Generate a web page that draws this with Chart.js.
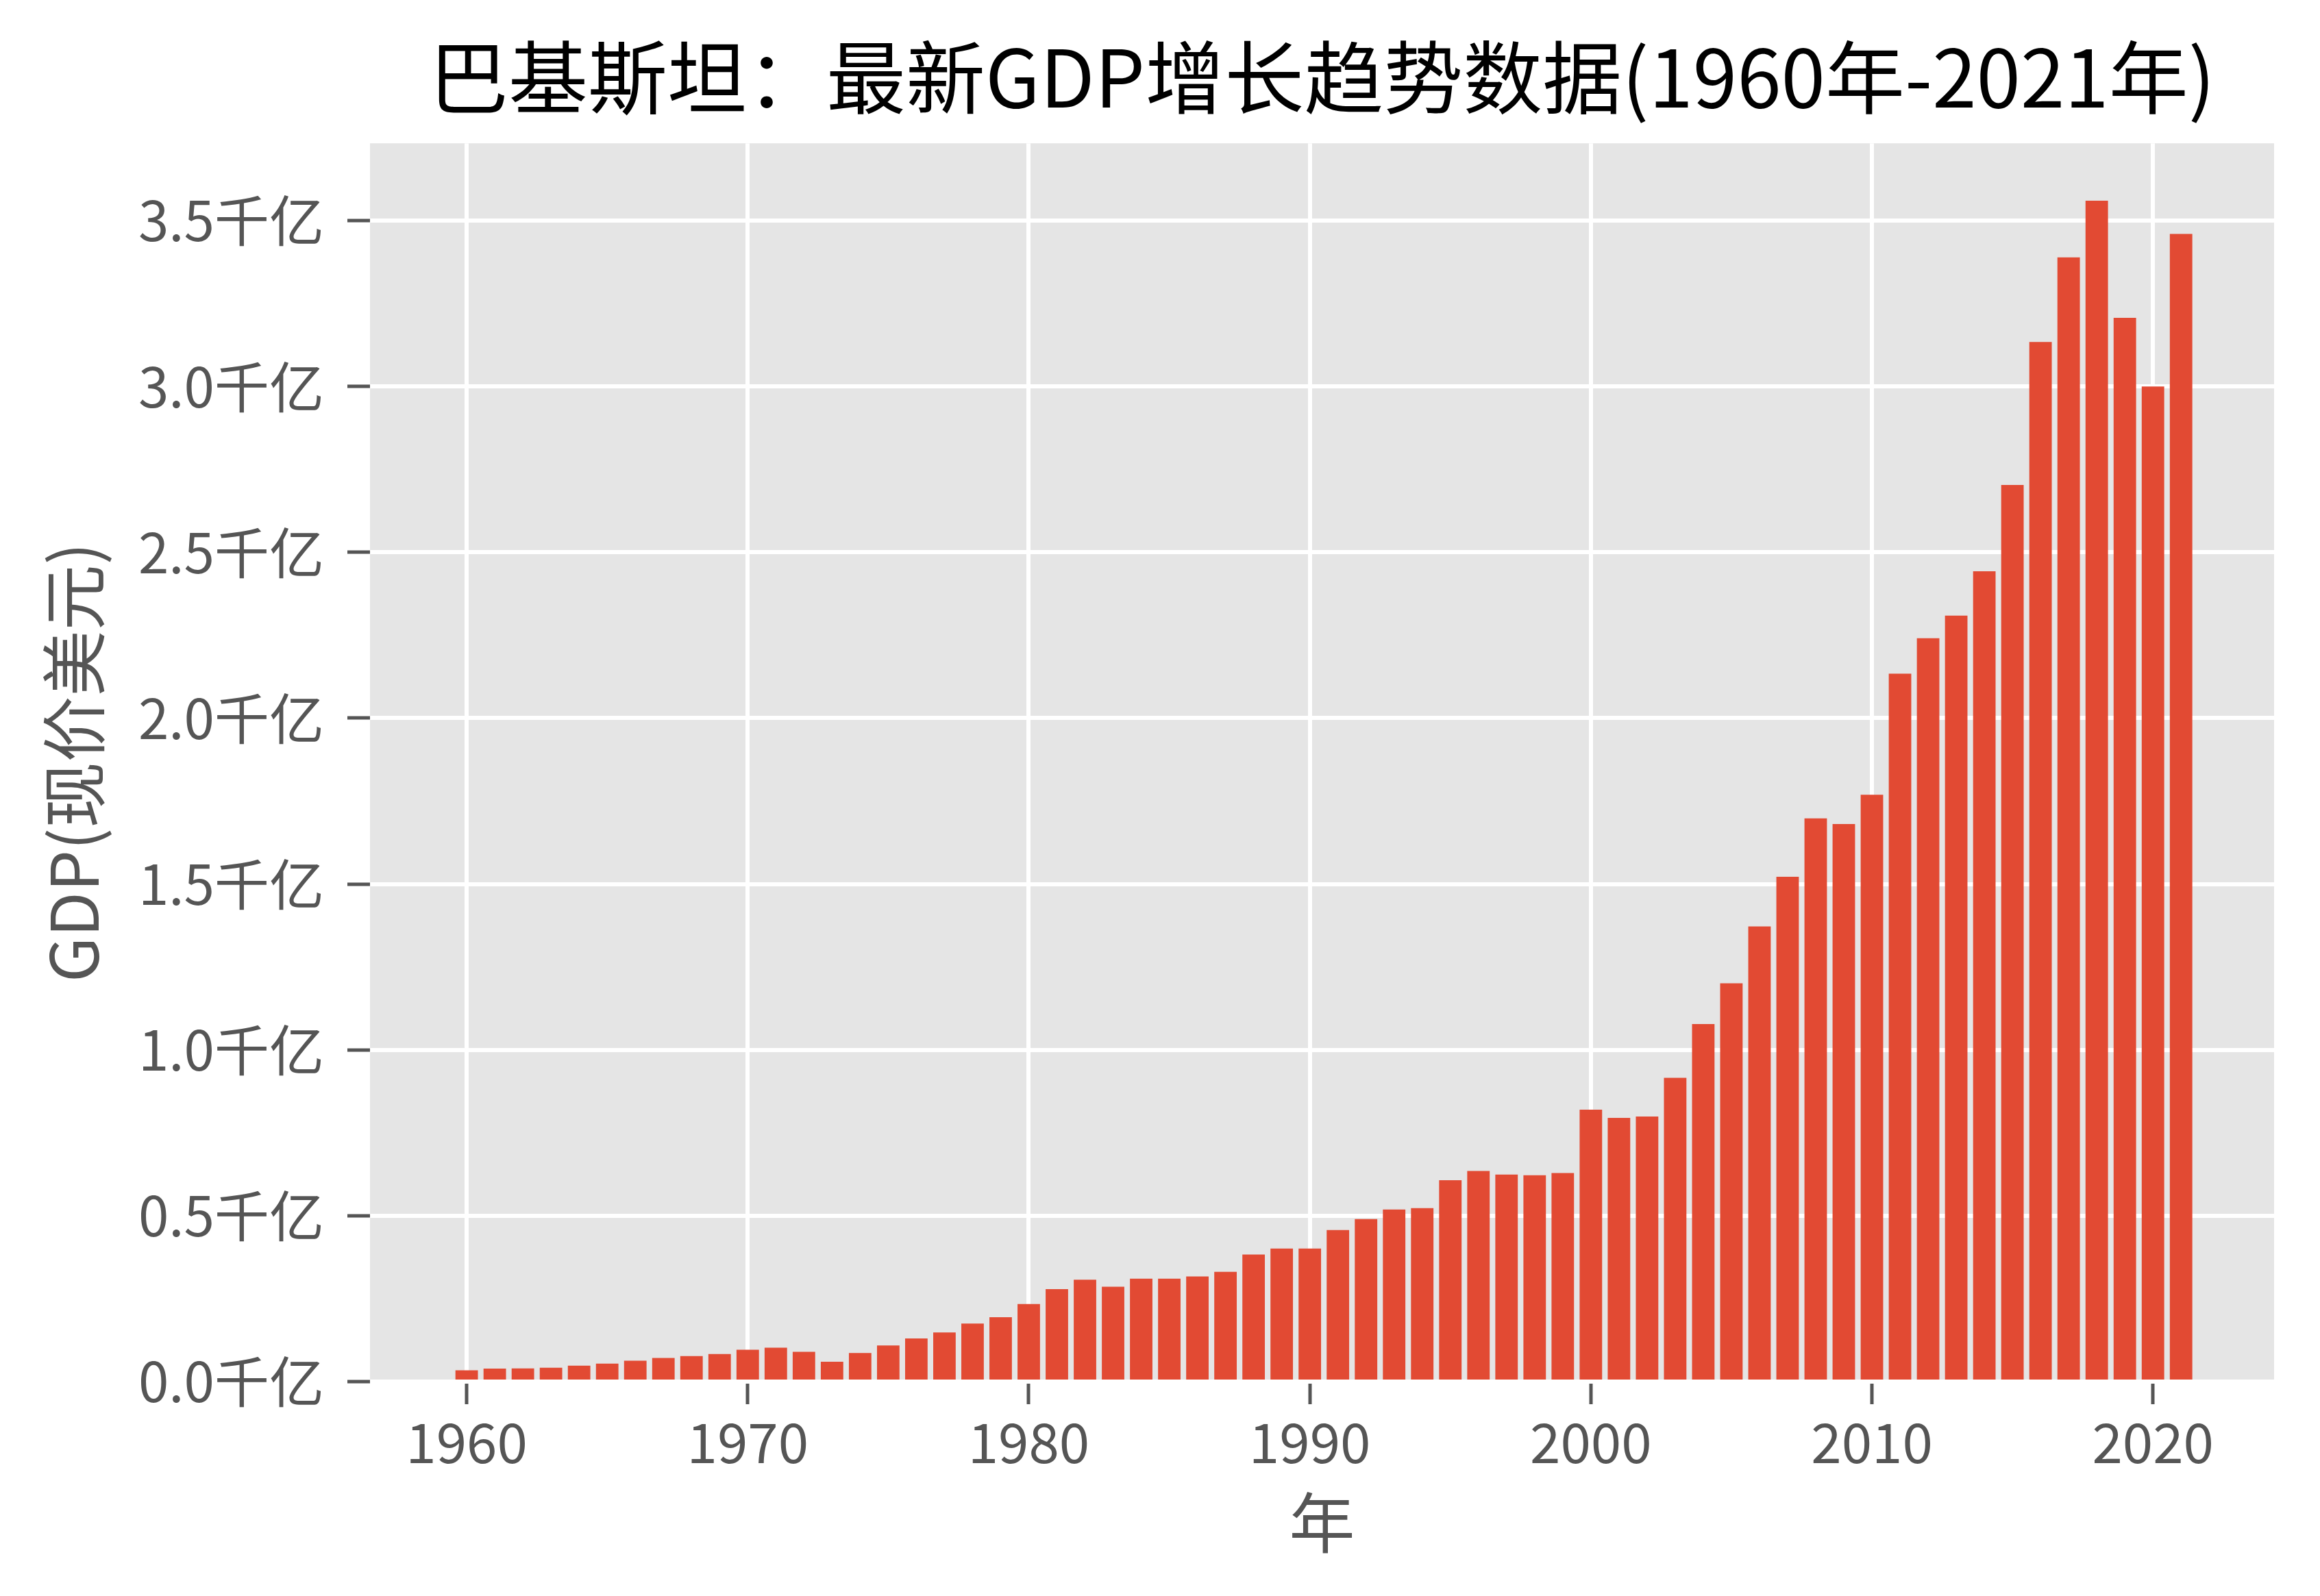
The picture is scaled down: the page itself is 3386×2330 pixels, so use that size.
<!DOCTYPE html>
<html>
<head>
<meta charset="utf-8">
<title>巴基斯坦GDP</title>
<script src="https://cdn.jsdelivr.net/npm/chart.js@4.4.1/dist/chart.umd.min.js"></script>
<style>
  html, body { margin: 0; padding: 0; background: #ffffff; }
  #wrap { width: 3386px; height: 2330px; position: relative; }
</style>
</head>
<body>
<div id="wrap"><canvas id="gdpChart"></canvas></div>
<script>
// Data (values in 千亿 US$)
const years = [
    1960, 1961, 1962, 1963, 1964, 1965, 1966, 1967, 1968, 1969,
    1970, 1971, 1972, 1973, 1974, 1975, 1976, 1977, 1978, 1979,
    1980, 1981, 1982, 1983, 1984, 1985, 1986, 1987, 1988, 1989,
    1990, 1991, 1992, 1993, 1994, 1995, 1996, 1997, 1998, 1999,
    2000, 2001, 2002, 2003, 2004, 2005, 2006, 2007, 2008, 2009,
    2010, 2011, 2012, 2013, 2014, 2015, 2016, 2017, 2018, 2019,
    2020, 2021
];
const gdpValues = [
    0.034, 0.039, 0.040, 0.042, 0.048, 0.054, 0.063, 0.071, 0.077, 0.083,
    0.096, 0.102, 0.090, 0.060, 0.086, 0.109, 0.130, 0.148, 0.175, 0.194,
    0.234, 0.279, 0.307, 0.286, 0.310, 0.310, 0.317, 0.331, 0.383, 0.401,
    0.401, 0.457, 0.490, 0.519, 0.523, 0.607, 0.635, 0.624, 0.622, 0.629,
    0.820, 0.795, 0.799, 0.916, 1.078, 1.201, 1.372, 1.522, 1.698, 1.681,
    1.769, 2.134, 2.241, 2.309, 2.443, 2.703, 3.134, 3.389, 3.560, 3.207,
    3.000, 3.460
];
const xTicks = [1960, 1970, 1980, 1990, 2000, 2010, 2020];
const xTickLabels = ['1960', '1970', '1980', '1990', '2000', '2010', '2020'];
const yTicks = [0, 0.5, 1.0, 1.5, 2.0, 2.5, 3.0, 3.5];
const yTickLabels = ['0.0千亿', '0.5千亿', '1.0千亿', '1.5千亿', '2.0千亿', '2.5千亿', '3.0千亿', '3.5千亿'];

const chartTitle = '巴基斯坦：最新GDP增长趋势数据(1960年-2021年)';
const xTitle = '年';
const yTitle = 'GDP(现价美元)';

Chart.defaults.font.family = "'Noto Sans CJK SC', 'Noto Sans', sans-serif";
Chart.defaults.color = '#555555';

// grey panel behind the plot, ggplot style
const panelBackground = {
    id: 'panelBackground',
    beforeDraw(chart) {
        const {ctx, chartArea} = chart;
        ctx.save();
        ctx.fillStyle = '#E5E5E5';
        ctx.fillRect(chartArea.left, chartArea.top,
            chartArea.right - chartArea.left, chartArea.bottom - chartArea.top);
        ctx.restore();
    }
};

const ctx = document.getElementById('gdpChart');
new Chart(ctx, {
    type: 'bar',
    data: {
        datasets: [{
            label: 'GDP',
            data: years.map((y, i) => ({x: y, y: gdpValues[i]})),
            backgroundColor: '#E24A33',
            borderWidth: 0,
            categoryPercentage: 1.0,
            barPercentage: 0.8
        }]
    },
    options: {
        responsive: true,
        maintainAspectRatio: false,
        devicePixelRatio: 1,
        animation: false,
        layout: {
            padding: {left: 0, right: 67, top: 0, bottom: 0}
        },
        plugins: {
            legend: {display: false},
            tooltip: {enabled: false},
            title: {
                display: true,
                text: chartTitle,
                fullSize: false,
                color: '#000000',
                font: {size: 116, weight: 'normal'},
                padding: {top: 43, bottom: 27}
            }
        },
        scales: {
            x: {
                type: 'linear',
                min: 1956.56,
                max: 2024.31,
                offset: false,
                afterBuildTicks: scale => {
                    scale.ticks = xTicks.map(v => ({value: v}));
                },
                afterFit: scale => {
                    scale.height = 313;
                },
                ticks: {
                    callback: (value, index) => xTickLabels[index],
                    font: {size: 80},
                    color: '#555555',
                    padding: 8,
                    maxRotation: 0,
                    autoSkip: false
                },
                grid: {
                    color: '#FFFFFF',
                    lineWidth: 6,
                    offset: false,
                    drawTicks: true,
                    tickLength: 33,
                    tickColor: '#555555',
                    tickWidth: 5
                },
                border: {display: false},
                title: {
                    display: true,
                    text: xTitle,
                    font: {size: 96},
                    color: '#555555',
                    padding: {top: 0, bottom: 50}
                }
            },
            y: {
                type: 'linear',
                min: 0,
                max: 3.733,
                afterBuildTicks: scale => {
                    scale.ticks = yTicks.map(v => ({value: v}));
                },
                afterFit: scale => {
                    scale.width = 540;
                },
                ticks: {
                    callback: (value, index) => yTickLabels[index],
                    font: {size: 80},
                    color: '#555555',
                    padding: 34
                },
                grid: {
                    color: '#FFFFFF',
                    lineWidth: 6,
                    drawTicks: true,
                    tickLength: 33,
                    tickColor: '#555555',
                    tickWidth: 5
                },
                border: {display: false},
                title: {
                    display: true,
                    text: yTitle,
                    font: {size: 96},
                    color: '#555555',
                    padding: {top: 50, bottom: 0}
                }
            }
        }
    },
    plugins: [panelBackground]
});
</script>
</body>
</html>
